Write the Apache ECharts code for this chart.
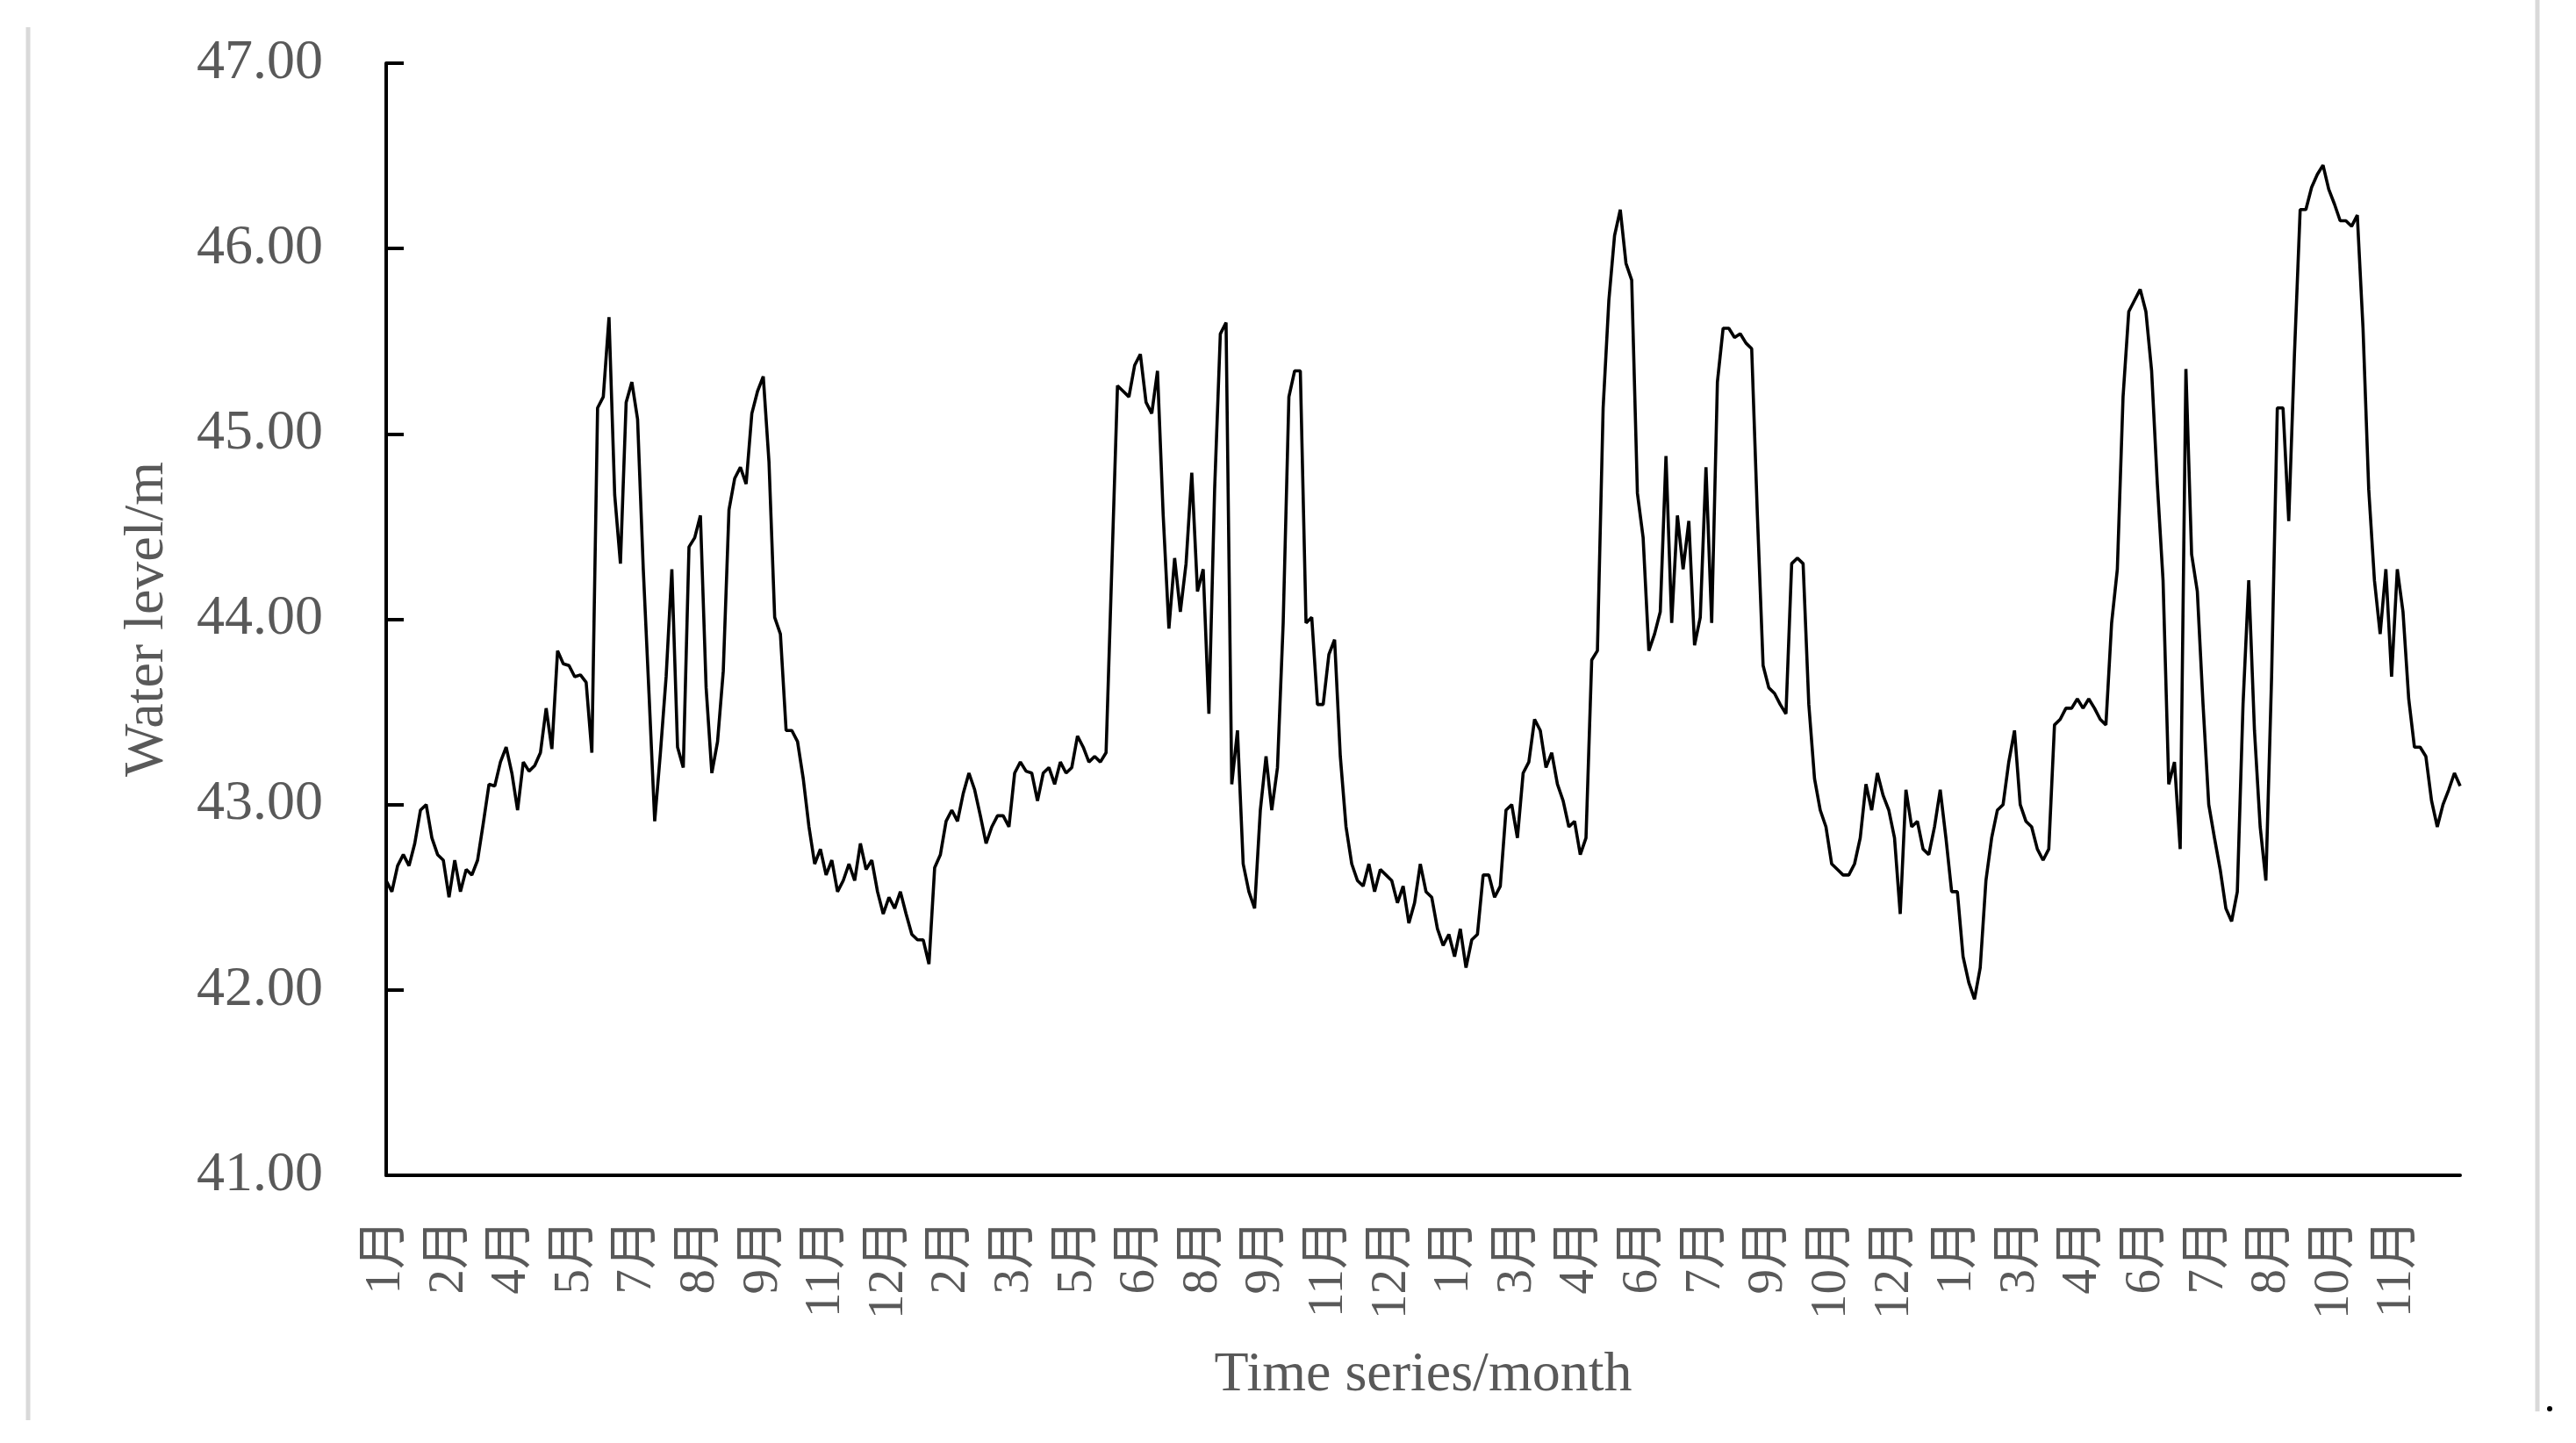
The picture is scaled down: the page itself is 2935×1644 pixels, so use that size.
<!DOCTYPE html>
<html>
<head>
<meta charset="utf-8">
<script src="https://cdn.jsdelivr.net/npm/echarts@6/dist/echarts.min.js"></script>
<style>
html,body{margin:0;padding:0;background:#fff;}
#chart{width:2935px;height:1644px;}
</style>
</head>
<body>
<div id="chart"></div>
<script>
const monthLabels = ['1月','2月','4月','5月','7月','8月','9月','11月','12月','2月','3月','5月','6月','8月','9月','11月','12月','1月','3月','4月','6月','7月','9月','10月','12月','1月','3月','4月','6月','7月','8月','10月','11月'];
const pointsPerLabel = 11;
const yMin = 41, yMax = 47, yStep = 1;
const waterLevel = [
42.59,42.53,42.67,42.73,42.67,42.79,42.97,43.00,42.82,42.73,
42.70,42.50,42.70,42.53,42.65,42.62,42.70,42.90,43.11,43.10,
43.23,43.31,43.17,42.97,43.23,43.18,43.21,43.28,43.52,43.30,
43.83,43.76,43.75,43.69,43.70,43.66,43.28,45.14,45.20,45.63,
44.67,44.30,45.17,45.28,45.08,44.27,43.60,42.91,43.28,43.69,
44.27,43.31,43.20,44.39,44.44,44.56,43.63,43.17,43.34,43.72,
44.59,44.76,44.82,44.73,45.11,45.23,45.31,44.85,44.01,43.92,
43.40,43.40,43.34,43.14,42.88,42.68,42.76,42.62,42.70,42.53,
42.59,42.68,42.59,42.79,42.65,42.70,42.53,42.41,42.50,42.44,
42.53,42.41,42.30,42.27,42.27,42.14,42.66,42.73,42.91,42.97,
42.91,43.06,43.17,43.08,42.94,42.79,42.88,42.94,42.94,42.88,
43.17,43.23,43.18,43.17,43.02,43.17,43.20,43.11,43.23,43.17,
43.20,43.37,43.31,43.23,43.26,43.23,43.28,44.27,45.26,45.23,
45.20,45.37,45.43,45.17,45.11,45.34,44.56,43.95,44.33,44.04,
44.30,44.79,44.15,44.27,43.49,44.70,45.54,45.60,43.11,43.40,
42.68,42.53,42.44,42.97,43.26,42.97,43.20,43.98,45.20,45.34,
45.34,43.98,44.01,43.54,43.54,43.81,43.89,43.26,42.88,42.68,
42.59,42.56,42.68,42.53,42.65,42.62,42.59,42.47,42.56,42.36,
42.47,42.68,42.53,42.50,42.33,42.24,42.30,42.18,42.33,42.12,
42.27,42.30,42.62,42.62,42.50,42.56,42.97,43.00,42.82,43.17,
43.23,43.46,43.40,43.20,43.28,43.11,43.02,42.88,42.91,42.73,
42.82,43.78,43.83,45.14,45.72,46.07,46.21,45.92,45.83,44.68,
44.44,43.83,43.92,44.04,44.88,43.98,44.56,44.27,44.53,43.86,
44.01,44.82,43.98,45.28,45.57,45.57,45.52,45.54,45.49,45.46,
44.56,43.75,43.63,43.60,43.54,43.49,44.30,44.33,44.30,43.54,
43.14,42.97,42.88,42.68,42.65,42.62,42.62,42.68,42.82,43.11,
42.97,43.17,43.05,42.97,42.82,42.41,43.08,42.88,42.91,42.76,
42.73,42.88,43.08,42.82,42.53,42.53,42.18,42.04,41.95,42.12,
42.59,42.82,42.97,43.00,43.23,43.40,43.00,42.91,42.88,42.76,
42.70,42.76,43.43,43.46,43.52,43.52,43.57,43.52,43.57,43.52,
43.46,43.43,43.98,44.27,45.20,45.66,45.72,45.78,45.66,45.34,
44.73,44.21,43.11,43.23,42.76,45.35,44.35,44.15,43.54,43.00,
42.82,42.65,42.44,42.37,42.53,43.54,44.21,43.40,42.88,42.59,
43.69,45.14,45.14,44.53,45.43,46.21,46.21,46.33,46.40,46.45,
46.32,46.24,46.15,46.15,46.12,46.18,45.57,44.70,44.21,43.92,
44.27,43.69,44.27,44.04,43.57,43.31,43.31,43.26,43.02,42.88,
43.00,43.08,43.17,43.10
];
const categories = waterLevel.map((_, i) =>
  (i % pointsPerLabel === 0 && i / pointsPerLabel < monthLabels.length) ? monthLabels[i / pointsPerLabel] : '');

const serif = "'Liberation Serif','Noto Sans CJK SC',serif";
const gray = '#595959';
const chart = echarts.init(document.getElementById('chart'));
chart.setOption({
  animation: false,
  backgroundColor: '#ffffff',
  grid: {left: 440, right: 132, top: 72, bottom: 305, containLabel: false},
  xAxis: {
    type: 'category',
    data: categories,
    boundaryGap: false,
    name: 'Time series/month',
    nameLocation: 'middle',
    nameGap: 196,
    nameTextStyle: {fontFamily: serif, fontSize: 64, color: gray},
    axisLine: {onZero: false, lineStyle: {color: '#000', width: 4}},
    axisTick: {show: false},
    splitLine: {show: false},
    axisLabel: {
      interval: (idx, val) => val !== '',
      rotate: 90,
      margin: 50,
      fontFamily: serif,
      fontSize: 57,
      color: gray
    }
  },
  yAxis: {
    type: 'value',
    min: yMin, max: yMax, interval: yStep,
    name: 'Water level/m',
    nameLocation: 'middle',
    nameGap: 240,
    nameTextStyle: {fontFamily: serif, fontSize: 64, color: gray},
    axisLine: {show: true, lineStyle: {color: '#000', width: 4}},
    axisTick: {show: true, inside: true, length: 20, lineStyle: {color: '#000', width: 4}},
    splitLine: {show: false},
    axisLabel: {
      margin: 72,
      fontFamily: serif,
      fontSize: 64,
      color: gray,
      formatter: v => v.toFixed(2)
    }
  },
  series: [{
    type: 'line',
    data: waterLevel,
    showSymbol: false,
    symbol: 'none',
    lineStyle: {color: '#000', width: 3.6},
    z: 3
  }],
  graphic: [
    {type: 'line', shape: {x1: 32, y1: 31, x2: 32, y2: 1618}, style: {stroke: '#d9d9d9', lineWidth: 5}},
    {type: 'line', shape: {x1: 2891, y1: 0, x2: 2891, y2: 1608}, style: {stroke: '#d9d9d9', lineWidth: 5}},
    {type: 'circle', shape: {cx: 2905, cy: 1605, r: 3}, style: {fill: '#000'}}
  ]
});
</script>
</body>
</html>
